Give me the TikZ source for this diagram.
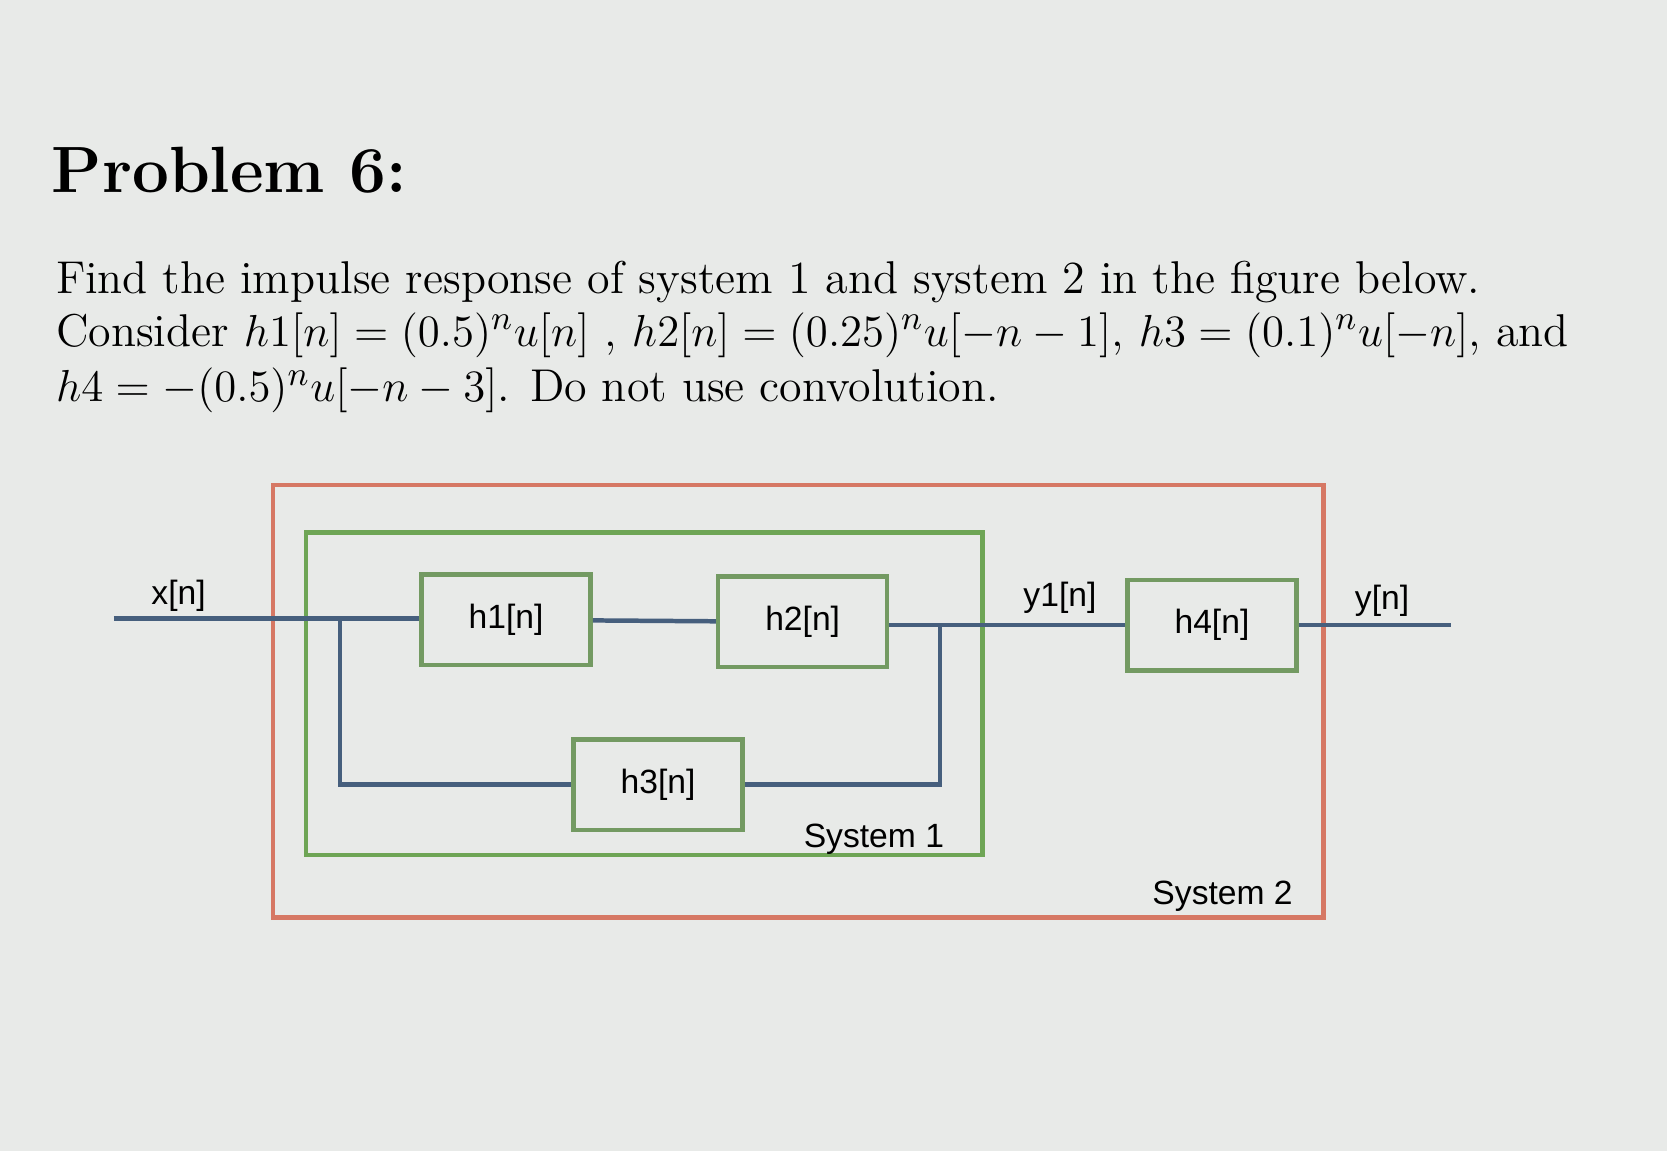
\documentclass[tikz,border=0pt]{standalone}
\usepackage{fontspec}
\newfontfamily\diag{Liberation Sans}
\definecolor{bg}{RGB}{232,234,232}
\definecolor{redb}{RGB}{214,120,100}
\definecolor{greenb}{RGB}{110,165,85}
\definecolor{wire}{RGB}{70,95,125}
\begin{document}
\begin{tikzpicture}[x=0.01cm,y=-0.01cm,
  blk/.style={draw=greenb!70!gray,line width=1.2pt,minimum width=1.59cm,minimum height=0.85cm,inner sep=0pt,font=\diag\fontsize{9}{10}\selectfont},
  lab/.style={font=\diag\fontsize{9}{10}\selectfont,inner sep=0pt},
  wr/.style={draw=wire,line width=1.2pt},
  txt/.style={anchor=west,inner sep=0pt,font=\fontsize{12.3}{15}\selectfont}]
\fill[bg] (0,0) rectangle (1568,1083);
\useasboundingbox (0,0) rectangle (1568,1083);
\node[anchor=west,inner sep=0pt,font=\fontsize{17.5}{21}\bfseries\selectfont] (title) at (48,160) {Problem 6:};
\node[txt] (l1) at (52,265) {Find the impulse response of system 1 and system 2 in the figure below.};
\node[txt] (l2) at (52,315) {Consider $h1[n]=(0.5)^nu[n]$ , $h2[n]=(0.25)^nu[-n-1]$, $h3=(0.1)^nu[-n]$, and};
\node[txt] (l3) at (52,367) {$h4=-(0.5)^nu[-n-3]$. Do not use convolution.};
\draw[redb,line width=1.2pt] (257,456) rectangle (1245,863);
\draw[greenb,line width=1.2pt] (288,501) rectangle (924,804);
\node[blk] (h1) at (476,583) {h1[n]};
\node[blk] (h2) at (755,585) {h2[n]};
\node[blk] (h3) at (619,738) {h3[n]};
\node[blk] (h4) at (1140,588) {h4[n]};
\coordinate (xin) at (107,582);
\coordinate (yout) at (1365,588);
\coordinate (b1) at (320,582);
\coordinate (b2) at (884,588);
\draw[wr] (xin) -- (h1.west|-xin);
\draw[wr] (h1) -- (h2);
\draw[wr] (h2.east|-b2) -- (h4.west);
\draw[wr] (h4.east) -- (yout);
\draw[wr] (b1) |- (h3.west);
\draw[wr] (h3.east) -| (b2);
\node[lab] (lx) at (168,560) {x[n]};
\node[lab] (ly1) at (997,562) {y1[n]};
\node[lab] (ly) at (1300,565) {y[n]};
\node[lab] (s1) at (822,789) {System 1};
\node[lab] (s2) at (1150,843) {System 2};
\end{tikzpicture}
\end{document}
